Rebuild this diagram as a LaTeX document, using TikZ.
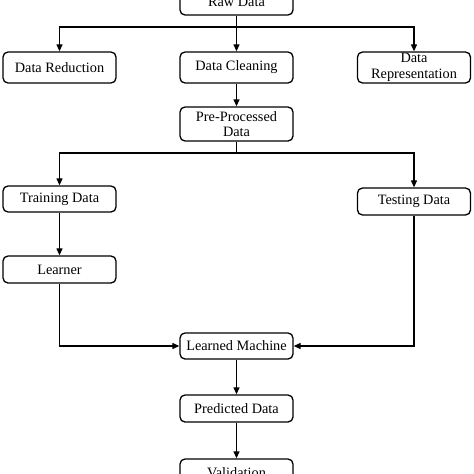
\documentclass[tikz,border=0pt]{standalone}
\usepackage{fontspec}
\setmainfont{Liberation Serif}
\usetikzlibrary{arrows.meta}
\begin{document}
\begin{tikzpicture}[x=1pt,y=-1pt,
  box/.style={draw, rounded corners=5pt, line width=1.3pt, minimum width=113pt,
    inner sep=1pt, align=center, font=\fontsize{14.3}{15.5}\selectfont},
  conn/.style={line width=1.2pt},
  arr/.style={conn, -{Triangle[length=7pt,width=6pt]}}]
\useasboundingbox (0,0) rectangle (474,474);
\node[box, minimum height=27pt] (raw) at (236.5,1.5) {Raw Data};
\node[box, minimum height=31pt] (red) at (59.5,67.5) {Data Reduction};
\node[box, minimum height=31pt] (cln) at (236.5,67.5) {Data Cleaning};
\node[box, minimum height=31pt] (rep) at (414,67.5) {Data\\Representation};
\node[box, minimum height=34pt] (pre) at (236.5,124) {Pre-Processed\\Data};
\node[box, minimum height=26pt] (trn) at (59.5,199) {Training Data};
\node[box, minimum height=27pt] (tst) at (414,201.5) {Testing Data};
\node[box, minimum height=27pt] (lrn) at (59.5,269.5) {Learner};
\node[box, minimum height=26pt] (lm) at (236.5,346) {Learned Machine};
\node[box, minimum height=27pt] (prd) at (236.5,408.5) {Predicted Data};
\node[box, minimum height=27pt] (val) at (236.5,472.5) {Validation};
\coordinate (b1) at (236.5,27);
\coordinate (b2) at (236.5,153);
\draw[arr] (raw) -- (cln);
\draw[arr] (b1) -| (red);
\draw[arr] (b1) -| (rep);
\draw[arr] (cln) -- (pre);
\draw[conn] (pre) -- (b2);
\draw[arr] (b2) -| (trn);
\draw[arr] (b2) -| (tst);
\draw[arr] (trn) -- (lrn);
\draw[arr] (lrn) |- (lm);
\draw[arr] (tst) |- (lm);
\draw[arr] (lm) -- (prd);
\draw[arr] (prd) -- (val);
\end{tikzpicture}
\end{document}
